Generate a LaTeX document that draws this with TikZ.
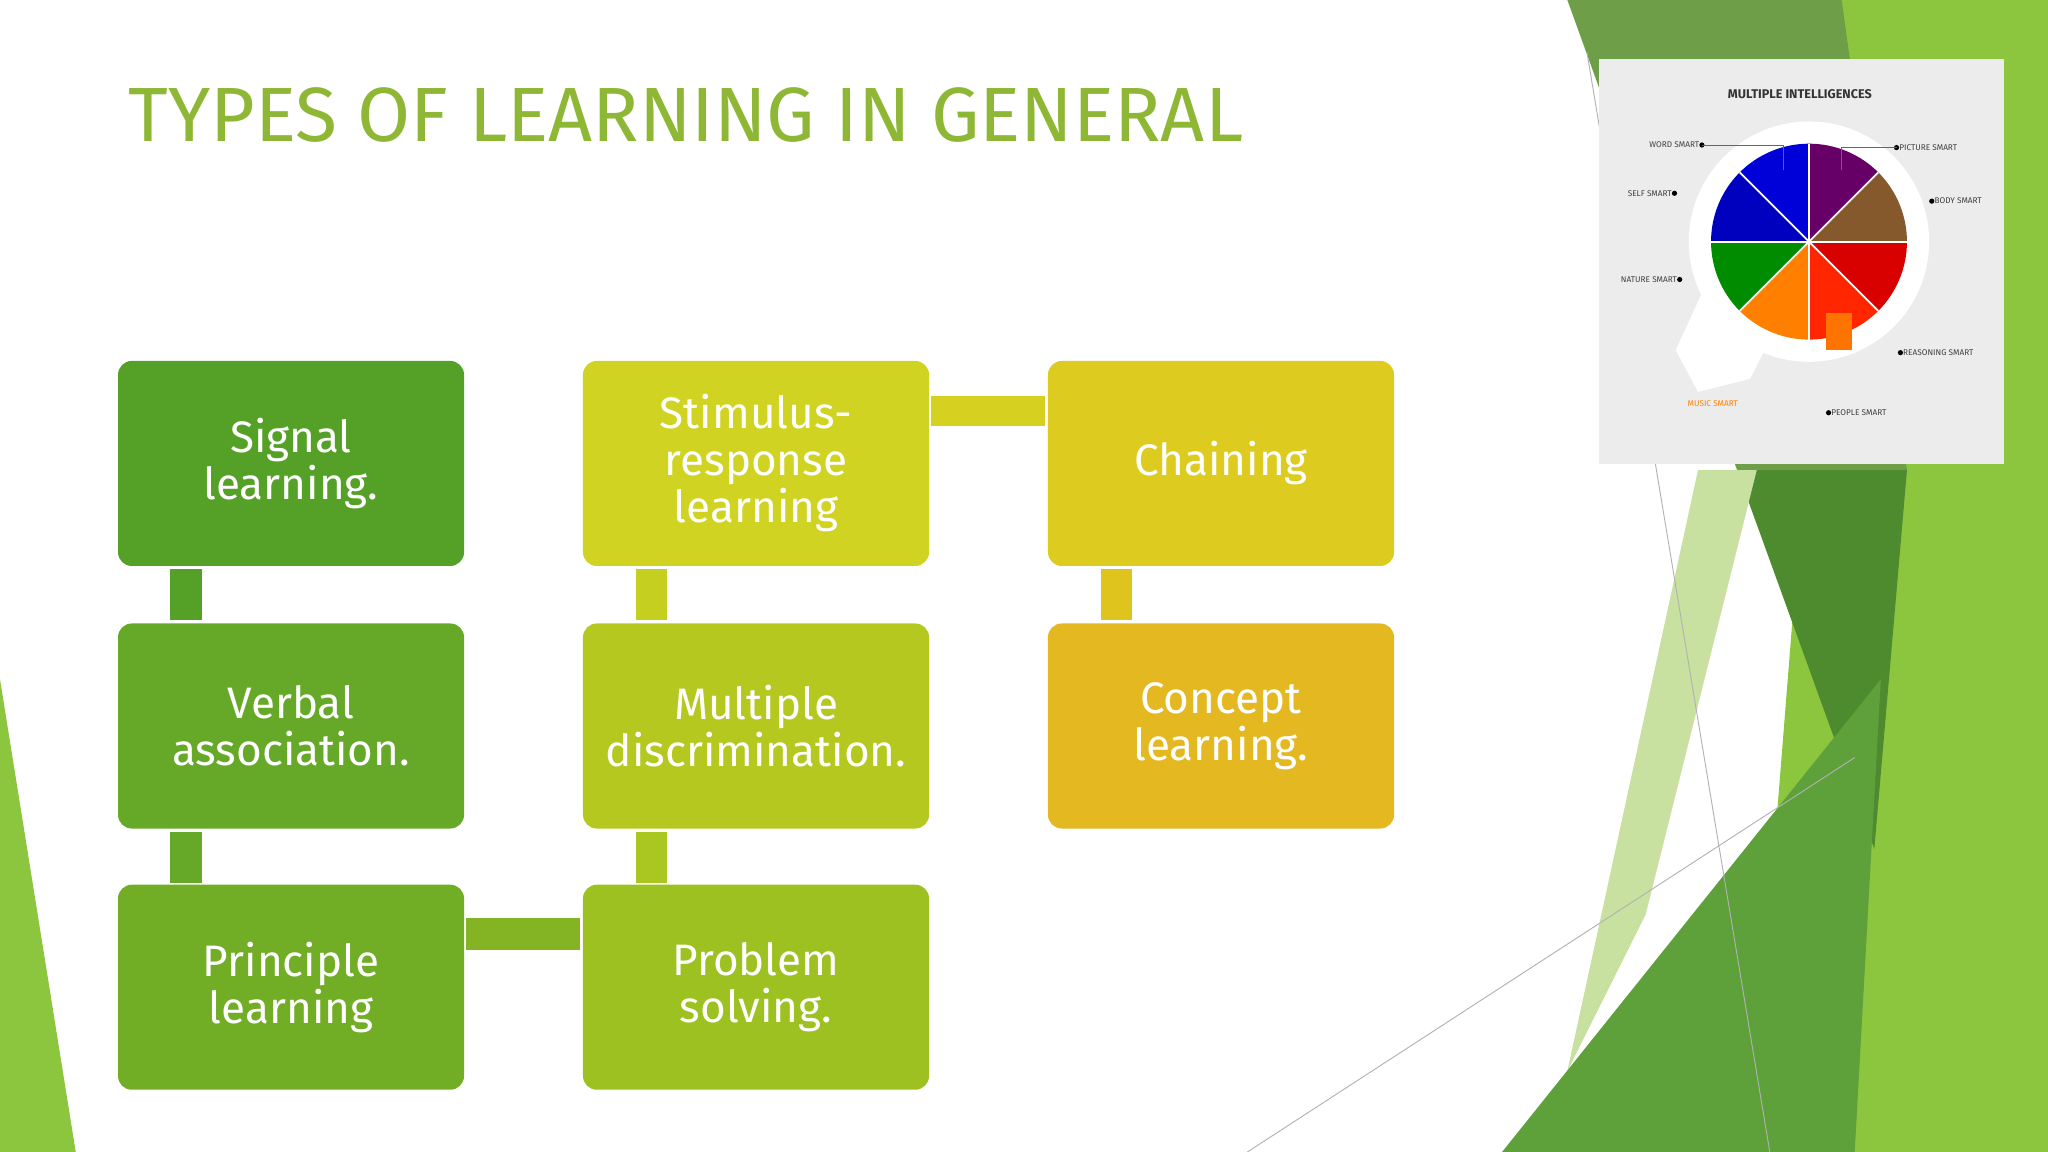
\documentclass[tikz,border=0pt]{standalone}
\usepackage{fontspec}
\setmainfont{Fira Sans}
\begin{document}
\begin{tikzpicture}[x=0.02cm,y=-0.02cm,
  box/.style={rounded corners=6pt,minimum width=5.3cm,minimum height=3.14cm,anchor=north west,text=white,align=center,font=\fontsize{19.2}{20.5}\selectfont,inner sep=0pt},
  lbl/.style={font=\fontsize{3.6}{4}\selectfont,text=black!75,inner sep=1pt}]
\useasboundingbox (0,0) rectangle (1568,882);
\fill[white] (0,0) rectangle (1568,882);
% background shapes
\fill[color={rgb,255:red,140;green,198;blue,63}] (0,520) -- (58,882) -- (0,882) -- cycle;
\fill[color={rgb,255:red,140;green,198;blue,63}] (1410,0) -- (1568,0) -- (1568,882) -- (1340,882) -- cycle;
\fill[color={rgb,255:red,110;green,158;blue,72}] (1200,0) -- (1410,0) -- (1460,360) -- (1330,360) -- cycle;
\fill[color={rgb,255:red,78;green,138;blue,46}] (1330,360) -- (1460,360) -- (1435,650) -- cycle;
\fill[color={rgb,255:red,200;green,224;blue,160}] (1300,360) -- (1345,360) -- (1260,700) -- (1200,820) -- cycle;
\fill[color={rgb,255:red,94;green,160;blue,58}] (1150,882) -- (1440,520) -- (1420,882) -- cycle;
\draw[gray!60,thin] (1215,40) -- (1355,882);
\draw[gray!60,thin] (955,882) -- (1420,580);
% title
\node[anchor=base west,inner sep=0pt,text={rgb,255:red,141;green,183;blue,52},font=\fontsize{33.5}{40}\selectfont] (title) at (98,108) {TYPES OF LEARNING IN GENERAL};
% connectors
\fill[color={rgb,255:red,85;green,160;blue,39}] (130,436) rectangle (155,475);
\fill[color={rgb,255:red,102;green,168;blue,39}] (130,637) rectangle (155,676);
\fill[color={rgb,255:red,132;green,180;blue,36}] (357,703) rectangle (444,727);
\fill[color={rgb,255:red,170;green,198;blue,32}] (487,637) rectangle (511,676);
\fill[color={rgb,255:red,196;green,207;blue,32}] (487,436) rectangle (511,475);
\fill[color={rgb,255:red,214;green,208;blue,32}] (713,303) rectangle (800,326);
\fill[color={rgb,255:red,224;green,196;blue,30}] (843,436) rectangle (867,475);
% boxes
\node[box,fill={rgb,255:red,85;green,161;blue,39}] (signal) at (90,276) {Signal\\learning.};
\node[box,fill={rgb,255:red,102;green,168;blue,39}] (verbal) at (90,477) {Verbal\\association.};
\node[box,fill={rgb,255:red,114;green,173;blue,38}] (principle) at (90,677) {Principle\\learning};
\node[box,fill={rgb,255:red,208;green,211;blue,33}] (stimulus) at (446,276) {Stimulus-\\response\\learning};
\node[box,fill={rgb,255:red,180;green,200;blue,32}] (multiple) at (446,477) {Multiple\\discrimination.};
\node[box,fill={rgb,255:red,156;green,193;blue,33}] (problem) at (446,677) {Problem\\solving.};
\node[box,fill={rgb,255:red,222;green,203;blue,31}] (chaining) at (802,276) {Chaining};
\node[box,fill={rgb,255:red,228;green,184;blue,32}] (concept) at (802,477) {Concept\\learning.};
% picture
\fill[color={rgb,255:red,236;green,236;blue,236}] (1224,45) rectangle (1534,355);
\node[font=\fontsize{5.5}{6}\selectfont\bfseries,text=black!80] (mi) at (1378,72) {MULTIPLE INTELLIGENCES};
\fill[white] (1385,185) circle (92);
\fill[white] (1305,220) -- (1283,268) -- (1300,300) -- (1340,290) -- (1360,250) -- cycle;
\foreach \a/\c in {-90/violet!80!black,-45/brown!70!black,0/red!85!black,45/red!70!orange,90/orange,135/green!55!black,-180/blue!75!black,-135/blue!85!black}
  \fill[\c] (1385,185) -- ++(\a:75) arc[start angle=\a,end angle=\a+45,radius=75] -- cycle;
\foreach \a in {0,45,...,315} \draw[white,thick] (1385,185) -- ++(\a:75);
\fill[orange!90!red] (1398,240) rectangle (1418,268);
\node[lbl,anchor=east] (w) at (1303,111) {WORD SMART};
\node[lbl,anchor=west] (p) at (1452,113) {PICTURE SMART};
\node[lbl,anchor=east] (s) at (1282,148) {SELF SMART};
\node[lbl,anchor=west] (b) at (1479,154) {BODY SMART};
\node[lbl,anchor=east] (n) at (1286,214) {NATURE SMART};
\node[lbl,anchor=west] (r) at (1455,270) {REASONING SMART};
\node[lbl,anchor=west,text=orange] (m) at (1290,309) {MUSIC SMART};
\node[lbl,anchor=west] (pe) at (1400,316) {PEOPLE SMART};
\foreach \n in {w,s,n} \fill (\n.east) circle (2);
\foreach \n in {p,b,r,pe} \fill (\n.west) circle (2);
\draw[black!60,very thin] (w.east) -- (1365,111) -- (1365,130);
\draw[black!60,very thin] (p.west) -- (1410,113) -- (1410,130);
\end{tikzpicture}
\end{document}
